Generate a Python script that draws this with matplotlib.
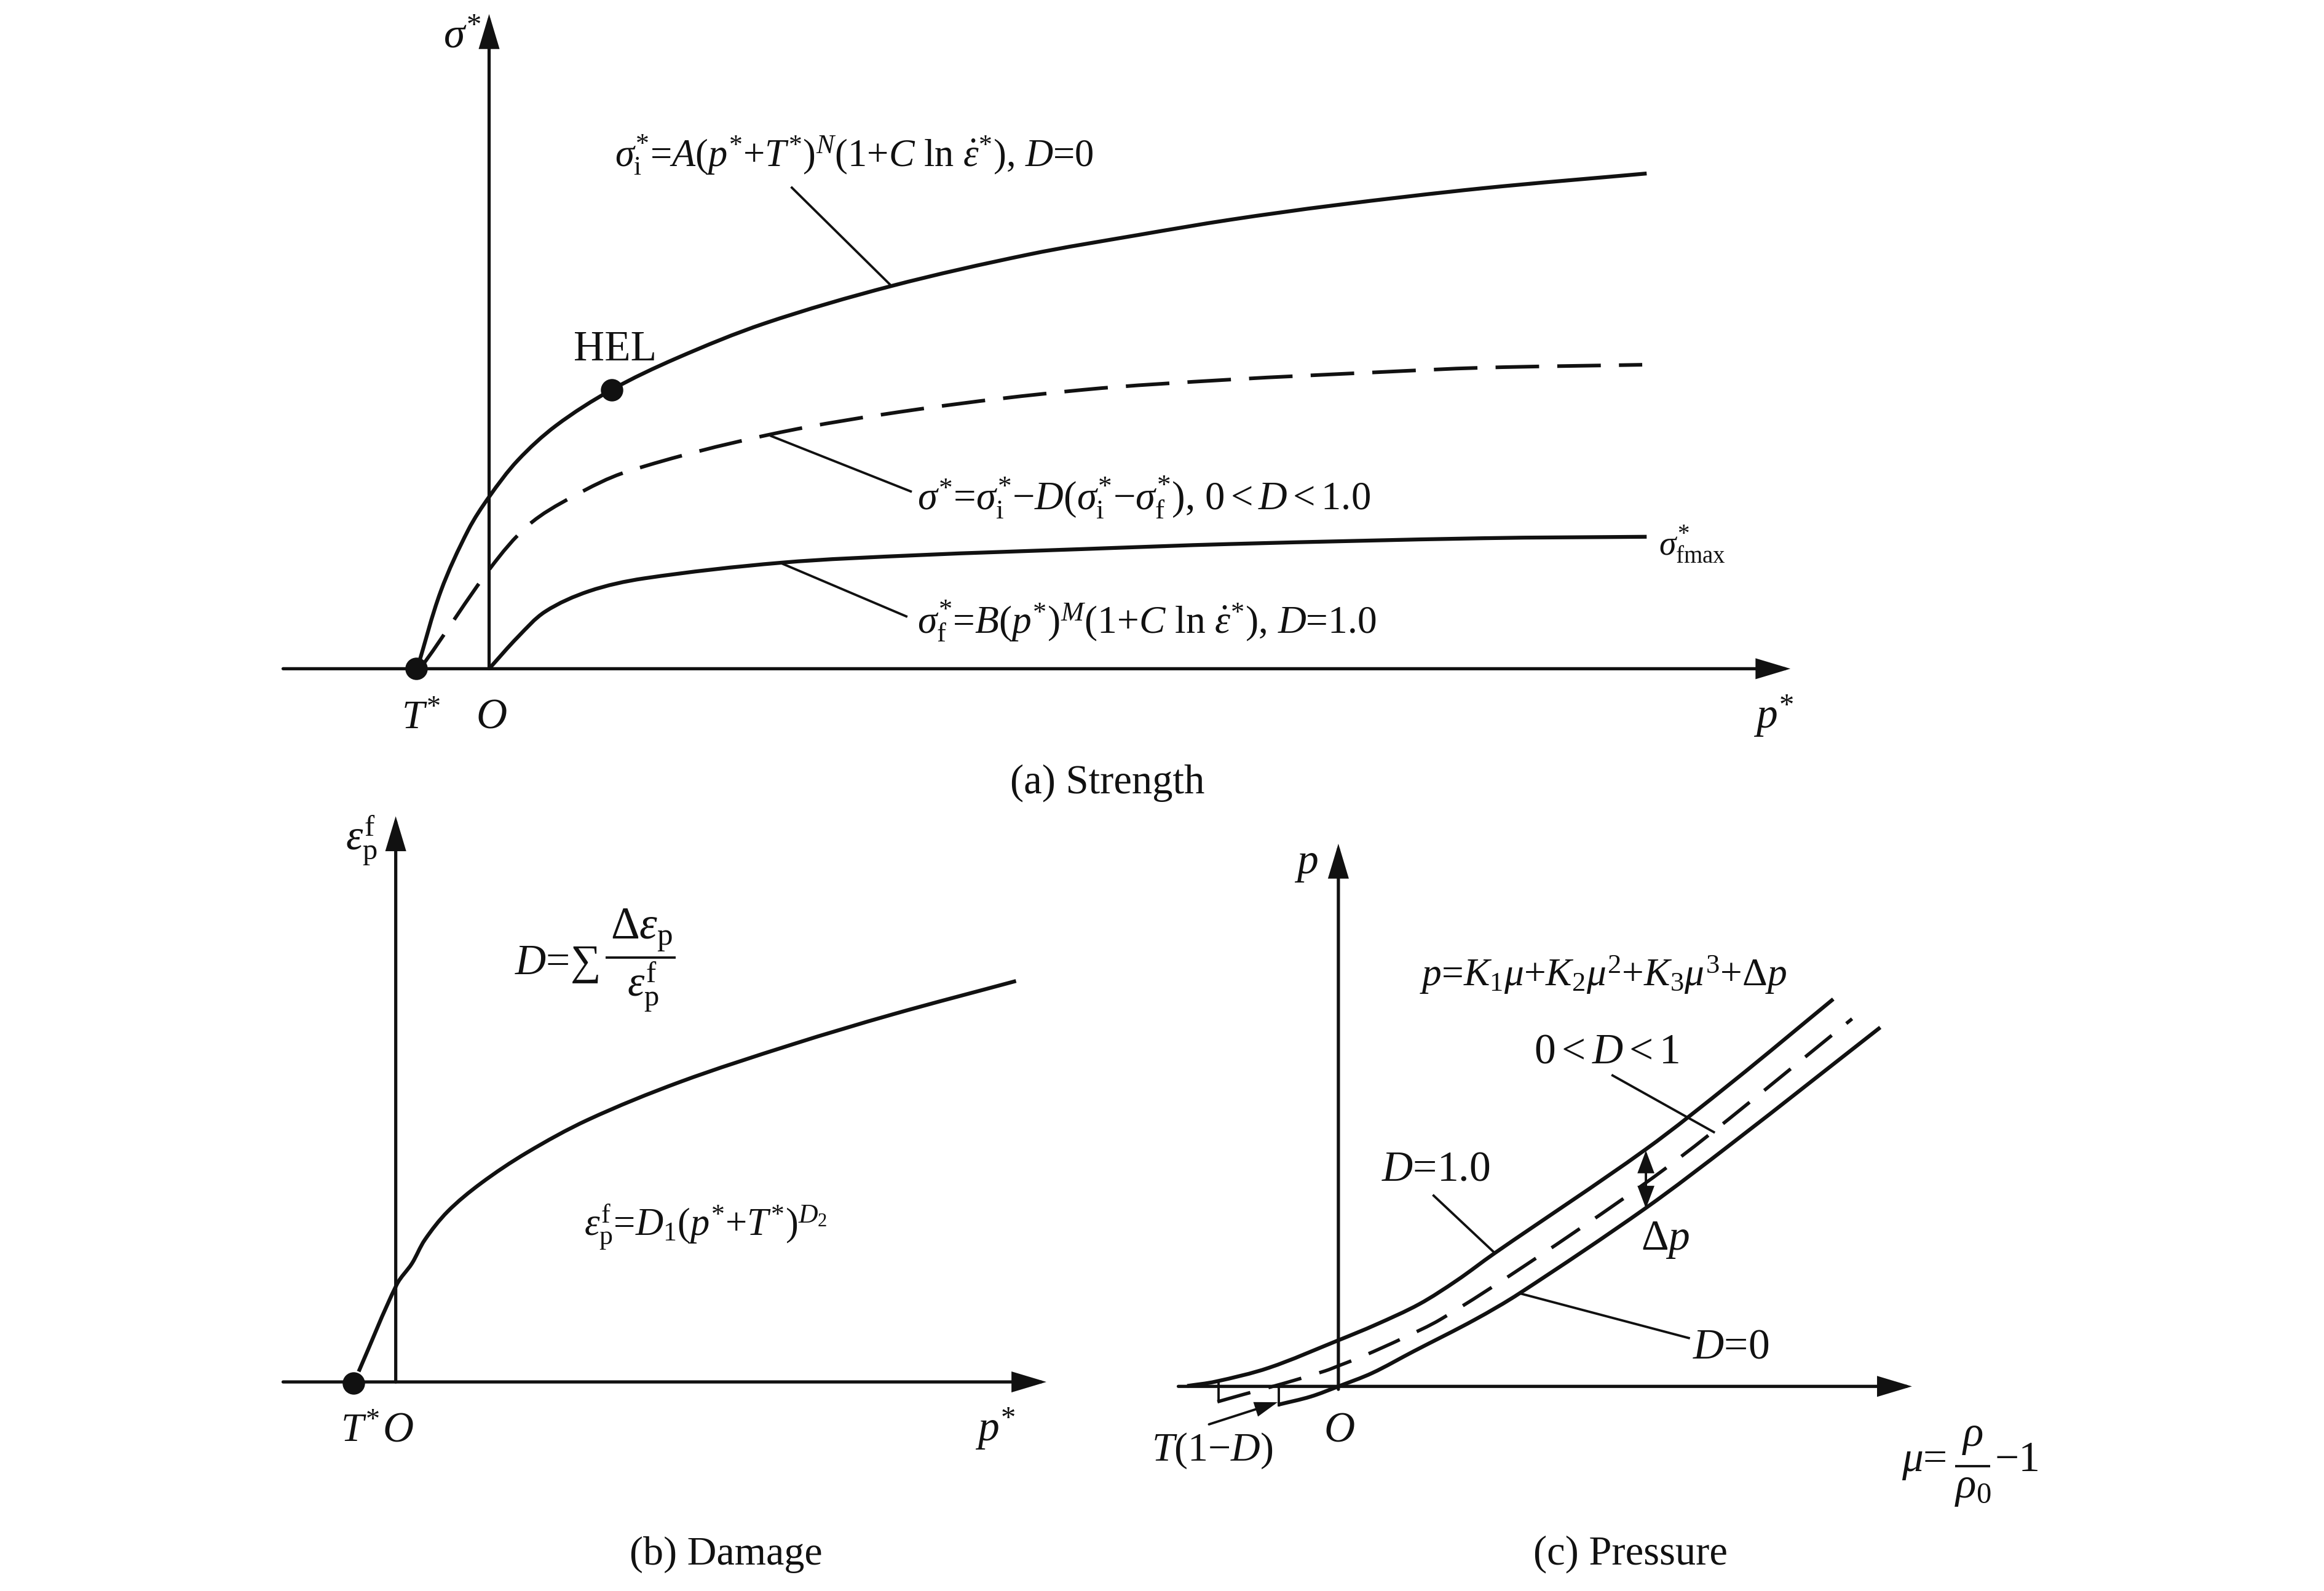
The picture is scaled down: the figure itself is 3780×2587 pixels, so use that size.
import matplotlib
matplotlib.use('Agg')
import matplotlib.pyplot as plt
from matplotlib.patches import PathPatch
from matplotlib.path import Path
import numpy as np

plt.rcParams['font.family'] = ['Liberation Serif', 'DejaVu Serif']
plt.rcParams['font.size'] = 20
plt.rcParams['mathtext.fontset'] = 'custom'
plt.rcParams['mathtext.rm'] = 'Liberation Serif'
plt.rcParams['mathtext.it'] = 'Liberation Serif:italic'
plt.rcParams['mathtext.bf'] = 'Liberation Serif:bold'
plt.rcParams['mathtext.fallback'] = 'stix'

# canvas units, all curves are offsets from the origin O of their panel
W, H = 1568.0, 1073.0

# (a) strength
intact_p = [-48.5, -32.6, -14.1, 0, 19.3, 45.2, 82.6, 126.7, 185.9, 271, 363.7, 437.8, 500, 570, 670, 781]
intact_s = [0, 52.3, 93.5, 115.9, 140.5, 164, 188.1, 209.5, 232.9, 258, 279.3, 292.5, 302.8, 312.5, 324, 334]
damaged_p = [-48.5, -43.7, 0.7, 26.7, 56.3, 93.3, 189.6, 289.6, 400.7, 500, 600, 670, 778]
damaged_s = [0, 4, 67.7, 97, 116, 133, 158, 175, 188.1, 195, 200, 203, 205]
fractured_p = [0, 19.3, 37.8, 67.4, 104.4, 197, 289.6, 400.7, 500, 670, 781]
fractured_s = [0, 21.3, 38.5, 52.3, 60.9, 71.5, 76.6, 80.7, 84.1, 88, 89]

# (b) damage
damage_p = [-25, 0.7, 11, 19.6, 35, 57.4, 88.4, 129.7, 191.5, 267.2, 336, 418.5]
damage_e = [7, 65.7, 80, 95.8, 114.9, 133.9, 154.6, 176.8, 202.2, 227.5, 248.1, 270.4]

# (c) pressure
d1_mu = [-102, -83, -47, 0, 25, 54.6, 80, 105.4, 207, 266.2, 333.9]
d1_p = [0.3, 3.2, 12.5, 31.1, 41.5, 55.5, 71.5, 89.8, 159.6, 205.6, 261.2]
dmid_mu = [-81.6, -64.3, -36.6, -9, 0.7, 17.3, 43.5, 69.1, 126.5, 207, 251.4, 346.6]
dmid_p = [-10.4, -5.5, 2.1, 10.4, 14.1, 20.7, 32.5, 45.3, 81.9, 137, 170.7, 247.9]
d0_mu = [-40.8, -18.7, 0, 22.8, 50.5, 91.9, 122.3, 207, 266.2, 365.6]
d0_p = [-12.4, -6.9, 0, 9, 23.5, 44.9, 62.8, 120, 164.4, 242.1]

INK = '#111111'
AXIS_LW = 1.5
CURVE_LW = 1.8
LEADER_LW = 1.1

fig = plt.figure(figsize=(15.12, 10.348), dpi=250)


def panel(ox, oy, left, right, top, bottom):
    # axes over a canvas box, data origin at O (ox, oy)
    ax = fig.add_axes([left / W, 1 - bottom / H, (right - left) / W, (bottom - top) / H])
    ax.set_xlim(left - ox, right - ox)
    ax.set_ylim(oy - bottom, oy - top)
    ax.axis('off')
    return ax


def curve(ax, xs, ys, lw=CURVE_LW, ls='-'):
    # bezier through the read points so the line does not look polygonal
    pts = np.column_stack([xs, ys]).astype(float)
    tang = np.gradient(pts, axis=0)
    tang /= np.linalg.norm(tang, axis=1, keepdims=True)
    verts = [pts[0]]
    for i in range(len(pts) - 1):
        step = np.linalg.norm(pts[i + 1] - pts[i]) / 3
        verts += [pts[i] + tang[i] * step, pts[i + 1] - tang[i + 1] * step, pts[i + 1]]
    codes = [Path.MOVETO] + [Path.CURVE4] * (len(verts) - 1)
    ax.add_patch(PathPatch(Path(verts, codes), fill=False, edgecolor=INK, lw=lw, ls=ls, capstyle='butt'))


def arrow(ax, start, end, style='-|>', hl=13, hw=3.9, lw=AXIS_LW):
    ax.annotate('', xy=end, xytext=start,
                arrowprops=dict(arrowstyle='%s,head_length=%s,head_width=%s' % (style, hl, hw),
                                mutation_scale=1, shrinkA=0, shrinkB=0, lw=lw,
                                color=INK, joinstyle='miter'))


def leader(ax, xs, ys):
    ax.plot(xs, ys, color=INK, lw=LEADER_LW, solid_capstyle='butt')


def label(x, y, s, ha='left', size=20):
    fig.text(x / W, 1 - y / H, s, ha=ha, va='baseline', fontsize=size, color=INK)


# ---- (a)
ax = panel(330, 451, 180, 1225, 0, 510)
arrow(ax, (-139, 0), (878, 0))
arrow(ax, (0, 0), (0, 441.5))
curve(ax, intact_p, intact_s)
curve(ax, damaged_p, damaged_s, lw=1.7, ls=(0, (12, 5)))
curve(ax, fractured_p, fractured_s)
ax.plot([-49], [0], 'o', color=INK, ms=9.5)
ax.plot([82.6], [188.1], 'o', color=INK, ms=9.5)
leader(ax, [203.7, 271], [325, 258.6])
leader(ax, [189.6, 285.2], [157.2, 119.3])
leader(ax, [197, 282.2], [71.2, 35])

label(299, 32, r'$\sigma^{*}$')
label(415, 112, r'$\sigma_{\mathrm{i}}^{*}$=$A$($p^{*}$+$T^{*}$)$^{N}$(1+$C$ ln $\dot{\varepsilon}^{*}$), $D$=0', size=18)
label(387, 243, 'HEL')
label(619, 344, r'$\sigma^{*}$=$\sigma_{\mathrm{i}}^{*}$−$D$($\sigma_{\mathrm{i}}^{*}$−$\sigma_{\mathrm{f}}^{*}$), 0$<D<$1.0', size=18.6)
label(619, 427, r'$\sigma_{\mathrm{f}}^{*}$=$B$($p^{*}$)$^{M}$(1+$C$ ln $\dot{\varepsilon}^{*}$), $D$=1.0', size=18.3)
label(1119, 374, r'$\sigma_{\mathrm{fmax}}^{*}$', size=16)
label(271, 491, r'$T^{*}$', size=19)
label(321, 491, r'$O$')
label(1183, 491, r'$p^{*}$')
label(747, 535, '(a) Strength', ha='center', size=19.2)

# ---- (b)
ax = panel(267, 932, 180, 720, 540, 1000)
arrow(ax, (-76, 0), (439, 0))
arrow(ax, (0, 0), (0, 381.5))
curve(ax, damage_p, damage_e)
ax.plot([-28.5], [-1], 'o', color=INK, ms=9.5)
leader(ax, [141.6, 188.7], [286.2, 286.2])

label(233, 573, r'$\varepsilon_{\mathrm{p}}^{\mathrm{f}}$')
label(347, 657, r'$D$=$\sum$')
label(433, 633, r'$\Delta\varepsilon_{\mathrm{p}}$', ha='center', size=21)
label(434, 672, r'$\varepsilon_{\mathrm{p}}^{\mathrm{f}}$', ha='center')
label(394, 833, r'$\varepsilon_{\mathrm{p}}^{\mathrm{f}}$=$D_{1}$($p^{*}$+$T^{*}$)$^{D_{2}}$', size=18)
label(230, 972, r'$T^{*}$', size=19)
label(258, 972, r'$O$')
label(658, 972, r'$p^{*}$')
label(490, 1055, '(b) Damage', ha='center', size=19)

# ---- (c)
ax = panel(903, 935, 770, 1400, 545, 1030)
arrow(ax, (-108, 0), (387, 0))
arrow(ax, (0, -2), (0, 366))
curve(ax, d1_mu, d1_p)
curve(ax, dmid_mu, dmid_p, lw=1.6, ls=(0, (10, 5.5)))
curve(ax, d0_mu, d0_p)
leader(ax, [-81, -81], [3, -10.7])
leader(ax, [-40.3, -40.3], [1.8, -13.5])
arrow(ax, (-87.3, -25.6), (-41, -10.7), hl=8.5, hw=2.8, lw=LEADER_LW)
arrow(ax, (207.5, 120), (207.5, 159), style='<|-|>', hl=8.5, hw=3.2, lw=LEADER_LW)
leader(ax, [63.7, 106], [129.2, 89.5])
leader(ax, [184.3, 254], [210.1, 171.1])
leader(ax, [122.9, 237.2], [62.6, 32.4])
leader(ax, [416, 439.6], [-54, -54])

label(873, 589, r'$p$')
label(958, 665, r'$p$=$K_{1}\mu$+$K_{2}\mu^{2}$+$K_{3}\mu^{3}$+$\Delta p$', size=18.3)
label(1035, 717, r'0$<D<$1')
label(932, 796, r'$D$=1.0')
label(1107, 843, r'$\Delta p$')
label(1142, 916, r'$D$=0')
label(777, 985, r'$T$(1−$D$)', size=19)
label(893, 972, r'$O$')
label(1283, 992, r'$\mu$=')
label(1331, 975, r'$\rho$', ha='center')
label(1331, 1010, r'$\rho_{0}$', ha='center')
label(1346, 992, '−1')
label(1100, 1055, '(c) Pressure', ha='center', size=19.2)

fig.savefig('out.png', dpi=250, facecolor='white')
